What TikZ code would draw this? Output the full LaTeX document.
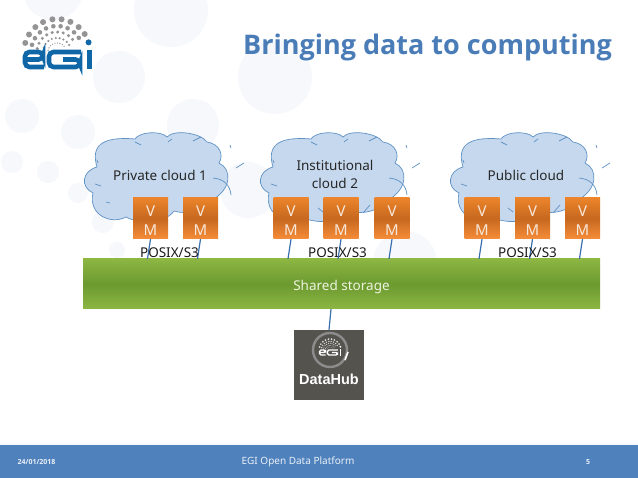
\documentclass[tikz,border=0pt]{standalone}
\usepackage{xcolor}
\usepackage{fontspec}
\setmainfont[BoldFont={Open Sans Bold}]{Noto Sans}
\usetikzlibrary{calc}

\definecolor{egiblue}{HTML}{4A7DB8}
\definecolor{barblue}{HTML}{4F81BD}
\definecolor{bubble}{HTML}{F6F8FB}
\definecolor{cloudfill}{HTML}{C6D8EE}
\definecolor{cloudline}{HTML}{5E92C4}
\definecolor{linkblue}{HTML}{3B70AE}
\definecolor{logoblue}{HTML}{0F67A8}
\definecolor{vmtop}{HTML}{EC842B}
\definecolor{vmmid}{HTML}{C6681F}
\definecolor{vmbot}{HTML}{F68D39}
\definecolor{vmtext}{HTML}{F8E8DA}
\definecolor{storetop}{HTML}{8DB643}
\definecolor{storemid}{HTML}{6C9A30}
\definecolor{storetext}{HTML}{EEF3DF}
\definecolor{hubgrey}{HTML}{55534E}

\tikzset{
  pics/egilogo/.style n args={4}{code={
    \foreach \ang in {164,148,131,115,98,82,66,49,33} {
      \fill[#1] (-\ang:33) circle (3);
      \fill[#1] (-\ang:26) circle (2.3);
      \fill[#1] (-\ang-6:20) circle (1.7);
      \fill[#1] (-\ang+3:14) circle (1.2);
      \fill[#1] (-\ang-5:9) circle (.7);
    }
    \fill[#2] (-17:33) circle (3);
    \draw[#2, line width=#3, rounded corners=#4] (-32,7.5) -- (-14,7.5) -- (-14,0) -- (-32,0) -- (-32,15) -- (-13,15);
    \draw[#2, line width=#3, rounded corners=#4] (24,0) -- (-8,0) -- (-8,15) -- (23,15) -- (23,7.5) -- (6,7.5);
    \draw[#2, line width=#3] (32.5,-2) -- (32.5,17);
  }},
  pics/cloudblob/.style={code={
    \draw[cloudline, fill=cloudfill, line width=.7pt] (11,32)
      .. controls (5,12) and (14,1) .. (49,4)
      .. controls (54,-4) and (76,-4) .. (81,2)
      .. controls (88,-6) and (115,-2) .. (121,7)
      .. controls (134,9) and (138,20) .. (133,28)
      .. controls (146,34) and (146,54) .. (126,65)
      .. controls (118,76) and (100,80) .. (88,76)
      .. controls (78,90) and (50,88) .. (40,82)
      .. controls (25,90) and (2,80) .. (7,58)
      .. controls (-6,52) and (-4,36) .. (11,32) -- cycle;
    % the small strokes around the outline
    \foreach \ax/\ay/\bx/\by in {49/7/55/10, 82/7/86/4, 107/6/115/2, 144/10/145/13, 150/33/158/28, 9/49/15/51, 20/67/24/68, 11/25/12/28, 56/73/61/77, 101/78/108/70}
      \draw[cloudline, line width=.7pt] (\ax,\ay) -- (\bx,\by);
    \draw[cloudline, line width=.7pt] (127,43) .. controls (138,44) and (144,50) .. (145,60);
  }},
  vmbox/.style={rectangle, minimum width=35pt, minimum height=41pt, inner sep=0pt, align=center,
    top color=vmtop, bottom color=vmbot, middle color=vmmid, text=vmtext, font=\fontsize{15}{19.5}\selectfont},
  cloudlabel/.style={inner sep=0pt, align=center, text=black!85, font=\fontsize{13.5}{18}\selectfont},
  protolabel/.style={inner sep=0pt, text=black!90, font=\fontsize{13.5}{16}\selectfont},
  footlabel/.style={inner sep=0pt, text=white!88!barblue},
  vmlink/.style={linkblue, line width=1.2pt},
}

\begin{document}
\begin{tikzpicture}[x=1pt, y=-1pt]
\path[use as bounding box, fill=white] (0,0) rectangle (638,478);

% pale bubbles of the slide
\foreach \bx/\by/\br in {53/-10/30, 171/10/37, 119/77/26, 275/77/37, 22/116/17, 78/132/17, 193/125/26, 12/162/11, 48/172/11, 78/193/10, 103/222/11, 248/190/28, 117/250/8, 405/263/32}
  \fill[bubble] (\bx,\by) circle (\br);

\pic at (57,52) {egilogo={black!42}{logoblue}{4.6pt}{4.5pt}};
\node (title) [inner sep=0pt, text=egiblue, font=\bfseries\fontsize{27}{32}\selectfont] at (427.5,47) {Bringing data to computing};

% clouds
\pic at (86,135) {cloudblob};
\pic at (262,135) {cloudblob};
\pic at (452,135) {cloudblob};
\node (privatecloud) [cloudlabel] at (160,175) {Private cloud 1};
\node (institcloud) [cloudlabel] at (335,174) {Institutional\\cloud 2};
\node (publiccloud) [cloudlabel] at (526,175) {Public cloud};

% storage and virtual machines
\node (storage) [rectangle, minimum width=517pt, minimum height=50pt, inner sep=0pt, text height=14pt, text depth=0pt, top color=storetop, bottom color=storetop, middle color=storemid, text=storetext, font=\fontsize{13.5}{16}\selectfont] at (341.5,284) {Shared storage};

\foreach \vmname/\vmx in {vma/150.5, vmb/200.5, vmc/291, vmd/341, vme/392, vmf/482, vmg/532.5, vmh/582.5}
  \node (\vmname) [vmbox] at (\vmx,218.5) {\rule{0pt}{15pt}V\\M};
\foreach \vmname in {vma, vmb, vmc, vmd, vme, vmf, vmg, vmh}
  \draw[vmlink] (\vmname.south) -- ($(\vmname.south |- storage.north)+(-3,0)$);

\node (posixa) [protolabel] at (169.5,253) {POSIX/S3};
\node (posixb) [protolabel] at (337.5,253) {POSIX/S3};
\node (posixc) [protolabel] at (527.5,253) {POSIX/S3};

% datahub
\node (datahub) [rectangle, minimum width=70pt, minimum height=70pt, inner sep=0pt, fill=hubgrey] at (329,365) {};
\draw[black!45, line width=2.4pt] (330,350) circle (17);
\draw[white, line width=1.6pt] (348,352) -- (345,360);
\pic[scale=.33] at (330,350) {egilogo={white!85!black}{white}{1.3pt}{1.5pt}};
\node (hublabel) [inner sep=0pt, text=white, font=\bfseries\fontsize{14.5}{16}\selectfont\fontspec{Liberation Sans}] at (329,379) {DataHub};
\draw[vmlink] (datahub.north) -- ($(datahub.north |- storage.south)+(2,0)$);

% footer
\fill[bubble] (0,443) rectangle (638,445);
\node (footer) [rectangle, minimum width=638pt, minimum height=33pt, inner sep=0pt, fill=barblue] at (319,461.5) {};
\node (footdate) [footlabel, font=\bfseries\fontsize{7}{9}\selectfont] at (36.5,462) {24/01/2018};
\node (footname) [footlabel, font=\fontsize{10}{13}\selectfont] at (298,462) {EGI Open Data Platform};
\node (footpage) [footlabel, font=\bfseries\fontsize{7}{9}\selectfont] at (588,462) {5};
\end{tikzpicture}
\end{document}
